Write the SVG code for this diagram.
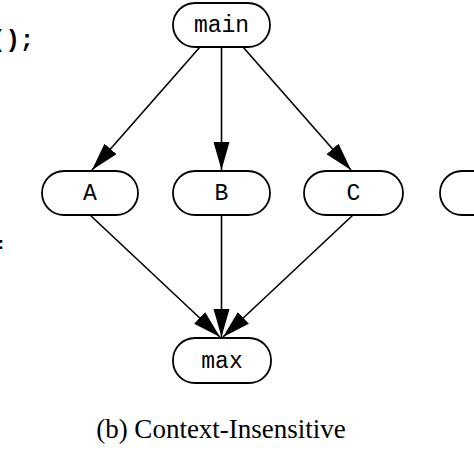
<svg xmlns="http://www.w3.org/2000/svg" width="474" height="474" viewBox="0 0 474 474">
<style>
.node rect{fill:#fff;stroke:#000;stroke-width:1.8}
.node text{font-family:"Liberation Mono",monospace;font-size:23px;text-anchor:middle;fill:#000}
.edge{stroke:#000;stroke-width:1.6;fill:none;marker-end:url(#arr)}
.code{font-family:"Liberation Mono",monospace;font-weight:bold;font-size:24px;fill:#000}
.cap{font-family:"Liberation Serif",serif;font-size:27px;text-anchor:middle;fill:#000}
</style>
<defs>
<marker id="arr" markerUnits="userSpaceOnUse" markerWidth="29" markerHeight="17" refX="28" refY="8" orient="auto">
<path d="M0,0 L28,8 L0,16 z" fill="#000"/>
</marker>
</defs>
<rect width="474" height="474" fill="#fff"/>
<text class="code" x="-9" y="47">();</text>
<text class="code" x="-11" y="253">=</text>
<g id="connectors">
<line class="edge" x1="200" y1="47" x2="92" y2="170"/>
<line class="edge" x1="221.5" y1="47" x2="221.5" y2="170"/>
<line class="edge" x1="243" y1="47" x2="351" y2="170"/>
<line class="edge" x1="90" y1="215" x2="220" y2="337"/>
<line class="edge" x1="221.5" y1="215" x2="221.5" y2="337"/>
<line class="edge" x1="353" y1="215" x2="223" y2="337"/>
</g>
<g id="main" class="node"><rect x="173" y="3" width="97" height="44" rx="22"/><text x="221.5" y="32">main</text></g>
<g id="A" class="node"><rect x="42" y="171" width="96" height="44" rx="22"/><text x="90" y="200">A</text></g>
<g id="B" class="node"><rect x="173" y="171" width="97" height="44" rx="22"/><text x="221.5" y="200">B</text></g>
<g id="C" class="node"><rect x="304" y="171" width="99" height="44" rx="22"/><text x="353.5" y="200">C</text></g>
<g id="D" class="node"><rect x="440" y="171" width="97" height="44" rx="22"/></g>
<g id="max" class="node"><rect x="173" y="338" width="98" height="45" rx="22"/><text x="222" y="368">max</text></g>
<text class="cap" x="221" y="438">(b) Context-Insensitive</text>
</svg>
